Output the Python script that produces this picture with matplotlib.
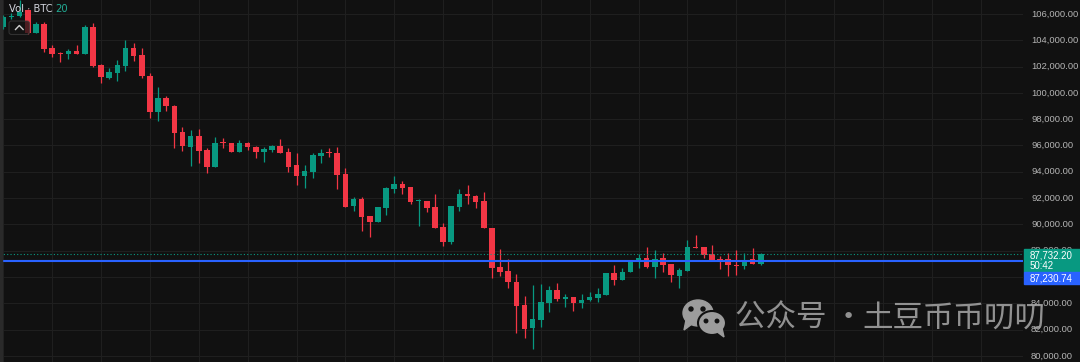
import numpy as np
import matplotlib
matplotlib.use("Agg")
import matplotlib.pyplot as plt
from matplotlib.patches import Rectangle, FancyBboxPatch, Ellipse, Polygon
import matplotlib.transforms as mtransforms

# ---------------- data ----------------
opens = [104990, 105750, 105850, 106300, 104580, 105240, 103390, 103060, 102940, 103190,
         102960, 104990, 102120, 101160, 101540, 102070, 103440, 102880, 101290, 98550,
         99640, 99030, 97030, 95910, 96700, 95660, 94390, 96270, 96210, 95530,
         96170, 95910, 95480, 95660, 95980, 95510, 94520, 93700, 93980, 95220,
         95480, 95430, 93830, 91400, 91930, 90620, 90180, 91220, 92710, 93090,
         92820, 91760, 91780, 91320, 89800, 88660, 91320, 92290, 92160, 91780,
         89750, 86760, 86460, 85640, 83870, 82120, 82730, 84040, 85010, 84350,
         84500, 84040, 84230, 84430, 84630, 86300, 85770, 86360, 87140, 87440,
         86780, 87440, 86990, 86100, 86480, 88300, 88260, 87730, 87370, 87350,
         86910, 86810, 87350, 87010]
highs = [105920, 106050, 107100, 106380, 105410, 105410, 103640, 103130, 103340, 103640,
         105160, 105290, 102200, 101920, 102500, 104020, 103820, 103390, 101490, 100430,
         99760, 99080, 97430, 97180, 97280, 95790, 96670, 96550, 96210, 96420,
         96290, 95960, 95910, 96040, 96490, 95790, 95410, 94520, 95410, 95710,
         95810, 95910, 94270, 92110, 92060, 90620, 91320, 92870, 93680, 93300,
         92820, 91950, 91780, 92290, 90080, 91400, 92670, 93000, 92240, 92440,
         89750, 88130, 87350, 86230, 84550, 85390, 85440, 85310, 85570, 84710,
         84500, 84710, 84840, 85190, 86300, 86910, 86660, 87190, 87750, 88300,
         88050, 87850, 86990, 86660, 88810, 89190, 88260, 88430, 87620, 87800,
         88050, 87850, 88180, 87850]
lows = [104860, 105600, 105770, 104480, 104580, 103090, 102750, 102370, 102580, 102940,
        102960, 101950, 100730, 101030, 100910, 101670, 102450, 101160, 98070, 97890,
        98650, 95830, 95600, 94440, 94690, 93890, 94390, 95790, 95530, 95530,
        95660, 95030, 94770, 95530, 95450, 94010, 93000, 92790, 93510, 94690,
        95150, 92670, 91350, 91040, 89500, 89060, 90180, 90710, 92410, 92290,
        91570, 89880, 90970, 89750, 88380, 88490, 91020, 91550, 91270, 89700,
        85950, 86100, 85190, 81720, 81380, 80500, 82220, 83360, 84170, 83740,
        83440, 83620, 84170, 84120, 84630, 85390, 85770, 86360, 86660, 86710,
        85900, 86400, 85600, 85190, 86480, 88230, 87420, 87290, 86610, 86080,
        86150, 86580, 87010, 86910]
closes = [105750, 105850, 106180, 104580, 105240, 103320, 102960, 102940, 103190, 102960,
          104990, 102050, 101190, 101590, 102100, 103390, 102810, 101290, 98550, 99640,
          99000, 96970, 95980, 96700, 95580, 94390, 96210, 96170, 95530, 96170,
          95910, 95480, 95710, 95980, 95450, 94390, 93700, 94040, 95250, 95450,
          95430, 93760, 91350, 91930, 90590, 90180, 91320, 92770, 93050, 92790,
          91730, 91830, 91270, 89750, 88660, 91400, 92290, 92140, 91730, 89700,
          86710, 86400, 85620, 83820, 82070, 82780, 84100, 85010, 84330, 84500,
          84040, 84270, 84480, 84680, 86300, 85770, 86400, 87190, 87440, 86760,
          87370, 86890, 86150, 86530, 88300, 88230, 87670, 87290, 87310, 86910,
          86860, 87310, 87010, 87732.20]
last_price = 87732.20
line_price = 87230.74
countdown = "50:42"
price_ticks = list(range(80000, 106001, 2000))
legend_name = "Vol · BTC"
legend_len = "20"
watermark_a = "公众号 ·"
watermark_b = "土豆币币叨叨"

# ---------------- style ----------------
BG = "#111111"
GRID = "#1f1f1f"
UP = "#089981"
DOWN = "#f23645"
BLUE = "#2962ff"
LABEL = "#b4b4b4"

W, H = 1080, 362
fig = plt.figure(figsize=(W / 100, H / 100), dpi=100)
fig.patch.set_facecolor(BG)
ax = fig.add_axes([0, 0, 1023 / W, 1])
ax.set_facecolor(BG)
ax.set_xlim(-0.406, 125.2)
ax.set_ylim(79534, 107065)
for s in ax.spines.values():
    s.set_visible(False)
ax.set_xticks([])
ax.set_yticks([])

# grid
for p in price_ticks:
    ax.axhline(p, color=GRID, lw=0.8, zorder=0)
for gx in range(0, 126, 6):
    ax.axvline(gx, color=GRID, lw=0.8, zorder=0)

# candles
n = len(opens)
xs = np.arange(n)
o = np.array(opens, float)
hgh = np.array(highs, float)
low = np.array(lows, float)
c = np.array(closes, float)
cols = [UP if cc >= oo else DOWN for oo, cc in zip(o, c)]
ax.vlines(xs, low, hgh, colors=cols, lw=0.9, zorder=2)
bh = np.maximum(np.abs(c - o), 80)
ax.bar(xs, bh, bottom=np.minimum(o, c), width=0.68, color=cols, lw=0, zorder=3)

# price lines
ax.axhline(last_price, color=UP, lw=0.8, ls=(0, (1, 2)), zorder=4)
ax.axhline(line_price, color=BLUE, lw=1.5, zorder=4)

# right price scale labels
trans = mtransforms.blended_transform_factory(fig.transFigure, ax.transData)
for p in price_ticks:
    ax.text(1031 / W, p, f"{p:,.2f}", transform=trans, clip_on=False,
            fontsize=6.8, color=LABEL, va="center", ha="left",
            family=["Liberation Sans", "DejaVu Sans"])

# helpers in pixel (top-down) coordinates
def P(x, y):
    return (x / 100.0, (H - y) / 100.0)

T = fig.dpi_scale_trans

fig.canvas.draw()
close_y = H - ax.transData.transform((0, last_price))[1]
# price tags
fig.add_artist(Rectangle(P(1024, close_y + 18), 56 / 100, 23 / 100,
                         transform=T, color=UP, zorder=10))
fig.add_artist(Rectangle(P(1024, close_y + 29.5), 56 / 100, 11.5 / 100,
                         transform=T, color=BLUE, zorder=10))
for txt, yy in [(f"{last_price:,.2f}", close_y + 1.5),
                (countdown, close_y + 12),
                (f"{line_price:,.2f}", close_y + 24)]:
    fig.text(1030 / W, 1 - yy / H, txt, fontsize=7.0,
             color="white", va="center", ha="left", zorder=11,
             family=["Liberation Sans", "DejaVu Sans"])

# left edge strip
fig.add_artist(Rectangle(P(0, H), 2 / 100, H / 100, transform=T,
                         color="#2a2a2a", zorder=5))

# legend
fig.text(9 / W, 1 - 8.5 / H, legend_name, fontsize=7.2, color="#d1d4dc",
         va="center", ha="left", zorder=11)
fig.text(55 / W, 1 - 8.5 / H, legend_len, fontsize=7.2, color="#22ab94",
         va="center", ha="left", zorder=11)
btn = FancyBboxPatch(P(9, 34.5), 20.5 / 100, 13.5 / 100,
                     boxstyle="round,pad=0,rounding_size=0.025",
                     transform=T, facecolor="#151515", alpha=0.75,
                     edgecolor="#3c3c3c", lw=0.8, zorder=10)
fig.add_artist(btn)
fig.add_artist(plt.Line2D([15.5 / 100, 19.3 / 100, 23.1 / 100],
                          [(H - 29.5) / 100, (H - 25.5) / 100, (H - 29.5) / 100],
                          transform=T, color="#cfcfcf", lw=1.0, zorder=11))

# watermark icon (two chat bubbles)
WM = "#9c9c9c"
fig.add_artist(Ellipse(P(698, 313), 30 / 100, 26 / 100, transform=T,
                       color=WM, zorder=12))
fig.add_artist(Polygon([P(686, 320), P(692, 324), P(684, 330)], closed=True,
                       transform=T, color=WM, zorder=12))
for ex in (691, 703):
    fig.add_artist(Ellipse(P(ex, 309), 4 / 100, 4 / 100, transform=T,
                           color=BG, zorder=13))
fig.add_artist(Ellipse(P(712, 323), 28 / 100, 24 / 100, transform=T,
                       facecolor=WM, edgecolor=BG, lw=1.5, zorder=14))
fig.add_artist(Polygon([P(716, 331), P(722, 328), P(724, 337)], closed=True,
                       transform=T, color=WM, zorder=14))
for ex in (706, 717):
    fig.add_artist(Ellipse(P(ex, 321), 3.5 / 100, 3.5 / 100, transform=T,
                           color=BG, zorder=15))

wm_kw = dict(fontsize=22, color="#a0a0a0", alpha=0.9, va="center", ha="left",
             zorder=16, family=["Noto Sans CJK SC", "DejaVu Sans"])
fig.text(735 / W, 1 - 318 / H, watermark_a, **wm_kw)
fig.text(862 / W, 1 - 318 / H, watermark_b, **wm_kw)

fig.savefig("out.png", dpi=100, facecolor=BG)
